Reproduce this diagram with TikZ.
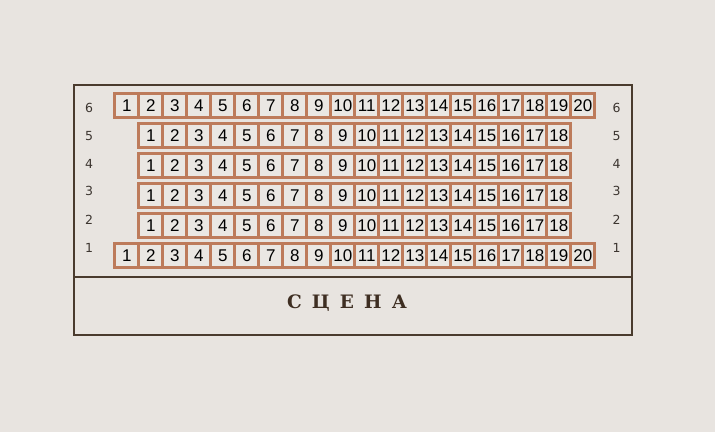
\documentclass[tikz,border=0pt]{standalone}
\usepackage{fontspec}
\setmainfont{Liberation Sans}
\newfontfamily\stagefont[LetterSpace=55]{DejaVu Serif}
\newfontfamily\labfont{DejaVu Sans}
\definecolor{bgc}{HTML}{E8E4E0}
\definecolor{cellc}{HTML}{EAE7E3}
\definecolor{seatc}{HTML}{BD7B5B}
\definecolor{framec}{HTML}{4A3B2E}
\definecolor{labc}{HTML}{3C3530}
\definecolor{stagec}{HTML}{3E2E22}
\begin{document}
\begin{tikzpicture}[x=1pt,y=-1pt,
    seat/.style={draw=seatc, fill=cellc, line width=3pt, minimum width=24pt,
      minimum height=24pt, inner sep=0pt, font=\fontsize{17}{17}\selectfont},
    rowlab/.style={text=labc, inner sep=0pt, font=\labfont\fontsize{12.5}{12.5}\selectfont},
    hall/.style={draw=framec, line width=1.5pt}]
    \fill[bgc] (0,0) rectangle (715,432);

    % hall and stage
    \coordinate (nw) at (74,85);
    \coordinate (se) at (632,335);
    \coordinate (sw) at (74,277);
    \coordinate (ne) at (632,277);
    \draw[hall] (nw) rectangle (se);
    \draw[hall] (sw) -- (ne);
    \node[text=stagec, inner sep=0pt, anchor=base,
      font=\stagefont\bfseries\fontsize{18.5}{18.5}\selectfont] (stage) at (347,308.3) {СЦЕНА};

    % long rows
    \foreach \r in {6,1}
      \foreach \k in {1,...,20}
        \node[seat] (s\r-\k) at ({102.8+24*\k},{105.8+30*(6-\r)}) {\k};
    % short rows
    \foreach \r in {2,...,5}
      \foreach \k in {1,...,18}
        \node[seat] (s\r-\k) at ({126.8+24*\k},{105.8+30*(6-\r)}) {\k};

    % row numbers
    \foreach \r/\y in {6/107.7,5/136,4/164,3/191,2/220,1/248} {
      \node[rowlab] (l\r) at (89,\y) {\r};
      \node[rowlab] (r\r) at (616.7,\y) {\r};
    }
\end{tikzpicture}
\end{document}
